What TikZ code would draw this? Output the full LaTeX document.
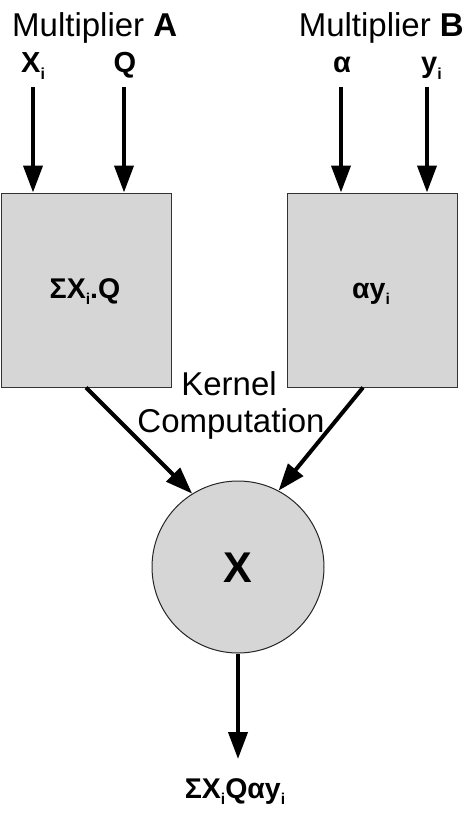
\documentclass[tikz,border=0pt]{standalone}
\usepackage{fontspec}
\setmainfont{Liberation Sans}
\usetikzlibrary{arrows.meta}
\newcommand\subi{\raisebox{-0.4ex}{\scalebox{0.55}{i}}}
\begin{document}
\begin{tikzpicture}[x=1pt,y=-1pt,
  arr/.style={line width=4pt,-{Triangle[length=27pt,width=19pt]}},
  blk/.style={draw=black!80,line width=1pt,fill=black!16,minimum width=170pt,minimum height=194pt,inner sep=0pt},
  mult/.style={circle,draw=black!85,line width=1pt,fill=black!16,minimum size=172pt,inner sep=0pt},
  ttl/.style={inner sep=0pt,anchor=base,font=\fontsize{33}{38}\selectfont},
  inl/.style={inner sep=0pt,anchor=base,font=\fontsize{29}{32}\selectfont\bfseries},
  blab/.style={inner sep=0pt,anchor=base,font=\fontsize{28.5}{32}\selectfont\bfseries}
]
\useasboundingbox (0,0) rectangle (474,824);
% titles
\node[ttl,anchor=base west] (tA) at (12,37) {Multiplier \textbf{A}};
\node[ttl,anchor=base east] (tB) at (464,37) {Multiplier \textbf{B}};
% input labels
\node[inl,anchor=base west] (lx) at (21,73) {X\subi};
\node[inl] (lq) at (125,73) {Q};
\node[inl] (la) at (342,73) {α};
\node[inl,anchor=base west] (ly) at (421,73) {y\subi};
% blocks
\node[blk] (A) at (86,290) {};
\node[blk] (B) at (372,290) {};
\node[blab] (At) at (85,298) {ΣX\subi.Q};
\node[blab] (Bt) at (371,298) {αy\subi};
% kernel text
\node[ttl] (k1) at (229,395) {Kernel};
\node[ttl] (k2) at (231,432) {Computation};
% circle
\node[mult] (C) at (238,567) {};
\node[inl,font=\fontsize{43}{46}\selectfont\bfseries] (Ct) at (238,582) {X};
% output
\node[blab] (out) at (235,798) {ΣX\subi Qαy\subi};
% input arrow starts
\coordinate (sx) at (33,87);
\coordinate (sq) at (124,87);
\coordinate (sa) at (341,87);
\coordinate (sy) at (427,87);
\coordinate (oend) at (238,759);
\draw[arr] (sx) -- (sx |- A.north);
\draw[arr] (sq) -- (sq |- A.north);
\draw[arr] (sa) -- (sa |- B.north);
\draw[arr] (sy) -- (sy |- B.north);
\draw[arr] (A.south) -- (C.122);
\draw[arr] ([xshift=-9pt]B.south) -- (C.62);
\draw[arr] (C.south) -- (oend);
\end{tikzpicture}
\end{document}
